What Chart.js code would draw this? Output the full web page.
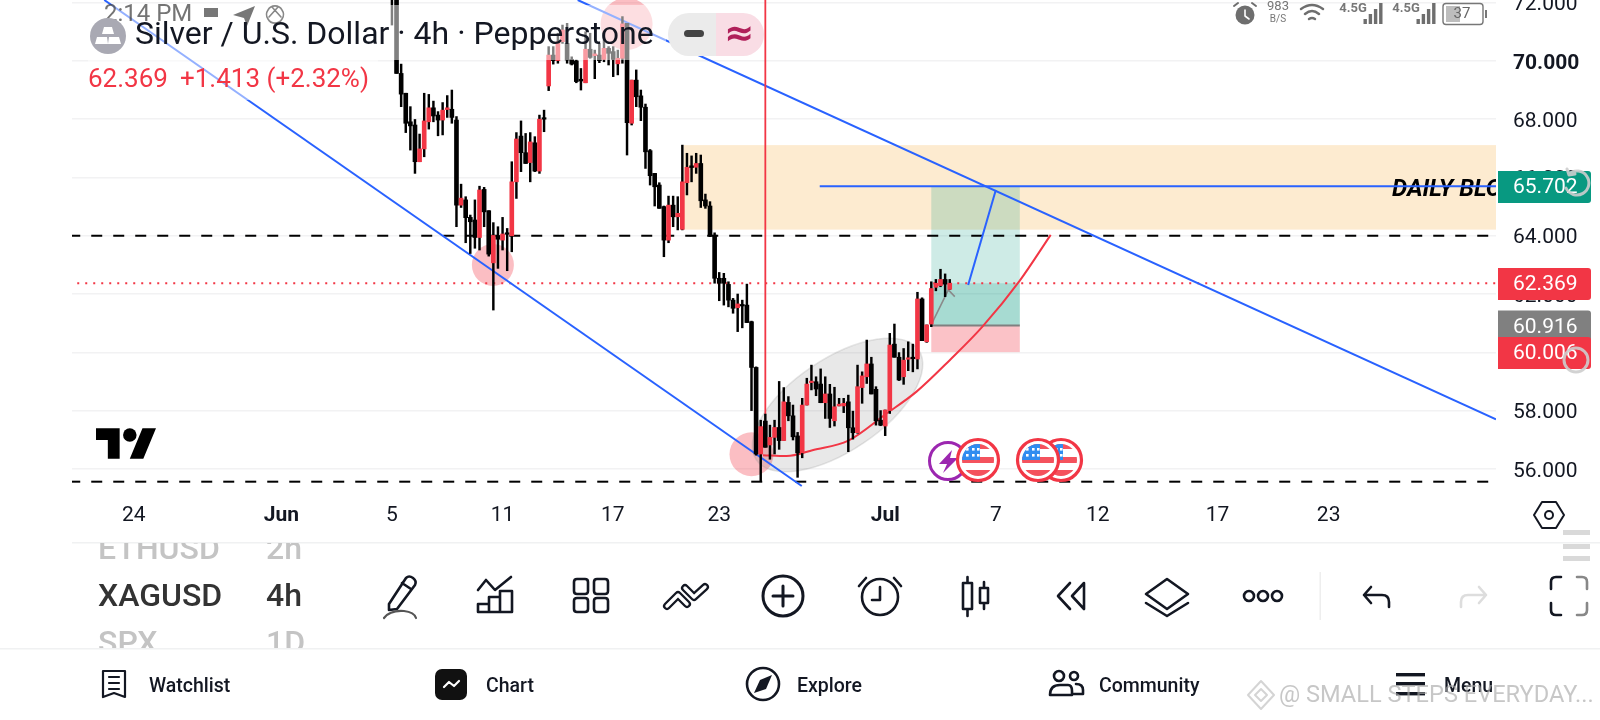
<!DOCTYPE html>
<html>
<head>
<meta charset="utf-8">
<title>XAGUSD 4h</title>
<style>
  html, body { margin: 0; padding: 0; background: #fff; }
  canvas { display: block; }
</style>
<script src="https://cdn.jsdelivr.net/npm/chart.js@4/dist/chart.umd.min.js"></script>
</head>
<body>
<canvas id="chart" width="1600" height="720"></canvas>
<script>
// Candles. Bar 0 is the first one on screen.
const opens = [72.6,72.5,69.57,68.89,67.91,67.8,66.54,66.98,67.91,68.39,68.14,67.97,68.33,68.34,67.97,65.05,65.23,64.63,64.54,63.94,65.59,64.86,63.07,64.01,63.85,64.08,64,65.85,67.42,66.85,66.51,67.19,66.22,68.03,69.14,70.2,70.01,70.66,70.6,70.05,70,69.37,69.25,70.4,70.18,70.2,70.05,70.43,70.32,69.9,70.09,71.29,67.86,69.34,68.8,68.41,66.92,66.14,65.74,65,63.85,65.05,64.65,64.22,65.82,66.4,66.35,66.48,65.23,65.02,64.02,62.54,62.54,62.33,61.79,61.53,61.62,61.62,61.05,59.48,56.51,57.64,56.82,57.08,57.42,56.97,58.28,57.82,57.13,56.55,58.19,58.96,58.99,58.91,58.27,58.57,57.65,58.16,58.16,58.3,57.41,57.24,58.79,59.16,59.6,58.73,57.67,57.47,58,60.28,59.83,59.16,59.76,59.83,59.77,61.83,60.36,60.97,62.23,62.29,62.5,62.16];
const highs = [73,72.8,69.89,68.89,68.43,67.99,67.49,68.89,68.85,68.62,68.26,68.57,68.81,69,68.09,65.77,65.34,64.71,65.23,65.7,65.66,64.86,64.45,64.31,64.63,64.25,66.54,67.54,67.94,67.51,67.54,67.4,68.14,68.31,70.49,70.49,70.95,71.23,71.29,70.14,70.03,69.74,71,70.95,70.37,70.6,70.95,70.49,70.49,70.37,71.52,71.29,69.34,69.69,69,68.52,66.96,66.14,65.82,65.02,65.36,65.36,65.34,67.11,66.83,66.74,66.83,66.77,65.43,65.17,64.1,62.74,62.71,62.42,61.85,62,61.79,62.34,61.07,59.5,57.67,57.88,57.5,57.67,59,58.79,58.48,58.19,57.25,58.42,59.11,59.56,59.16,59.43,59.16,58.9,58.8,58.42,58.42,58.53,57.98,59.56,59.33,60.42,59.83,58.82,58,58.02,60.65,60.97,59.99,60.13,60.36,60.28,62.06,61.87,60.94,62.42,62.5,62.85,62.69,62.5];
const lows = [71.23,69.57,68.43,67.54,66.94,66.14,66.54,66.71,67.66,67.91,67.43,67.46,68.06,67.86,64.31,64.97,63.76,63.39,63.57,63.51,64.31,63.3,61.45,62.88,63.51,62.8,63.45,65.28,66.2,66.48,65.85,66.2,66.14,67.57,68.98,69.89,69.92,70.6,69.92,69.86,69.25,69,69.25,70.09,69.39,69.94,69.97,69.86,69.46,69.52,69.92,66.77,67.8,68.43,67.95,66.31,65.74,65.02,64.94,63.28,63.76,64.31,64.2,64.2,65.4,65.85,66.14,64.97,64.94,63.97,62.37,61.77,61.62,61.56,61.34,60.71,60.84,61.02,58,56.47,55.56,56.74,56.33,56.51,56.67,56.97,57.65,56.99,55.71,56.38,58.19,58.71,58.51,58.27,57.73,57.42,57.47,58.16,57.93,56.59,57.02,57.22,58.25,58.93,58.57,57.5,57.48,57.14,57.9,59.83,59.03,58.9,59.37,59.33,59.43,60.4,60.34,60.88,62.11,62.25,61.91,62.16];
const closes = [72.3,69.57,68.86,67.86,67.77,66.54,66.98,67.94,68.39,68.11,67.97,68.31,68.39,68.06,65.05,65.29,64.62,64.48,63.94,65.57,64.82,63.37,64.01,63.88,64.06,64.05,65.85,67.32,66.85,66.48,67.22,66.22,68,68,70.2,70.01,70.66,71.06,70.03,69.89,69.29,69.31,70.4,70.12,70.24,70.01,70.43,70.26,70.05,70.09,71.27,67.88,69.34,68.77,68.41,66.88,66.06,65.68,64.94,63.85,65.05,64.65,64.77,65.85,66.35,66.34,66.48,65.2,65.02,63.99,62.54,62.37,62.37,61.79,61.51,61.66,61.59,61.02,59.48,56.51,57.45,56.74,57.08,57.42,56.97,58.3,57.82,57.1,56.55,58.19,58.91,59.01,58.74,58.27,58.57,57.73,58.13,58.22,58.25,57.41,57.24,58.82,59.19,59.6,58.57,57.65,57.5,58.02,60.25,59.83,59.05,59.73,59.81,59.78,61.83,60.4,60.94,62.19,62.37,62.5,62.34,62.37];

// Axes
const priceTicks = [56, 58, 60, 62, 64, 66, 68, 70, 72];
const timeTicks = [-56, -24, 0, 24, 47.9, 71, 107, 131, 153.1, 179.1, 203.2];
const timeLabels = ['24', 'Jun', '5', '11', '17', '23', 'Jul', '7', '12', '17', '23'];

// Levels and drawings, as [bar, price] pairs
const lastPrice = 62.369;
const dashedLevels = [64, 55.56];
const channelLow = [[-62.4, 72.09], [88.9, 55.41]];
const channelHigh = [[40.3, 72.09], [239.5, 57.7]];
const dailyLine = [[92.8, 65.7], [239.5, 65.7]];
const targetArrow = [[125, 62.31], [131, 65.57]];
const pathGrey = [[117.05, 60.97], [120.7, 62.14], [122.1, 61.91]];
const redCurve = [[80.5, 56.47], [85.6, 56.44], [91.4, 56.65], [99, 56.97], [107.3, 57.9], [113.8, 58.65], [121, 59.73], [128.1, 60.88], [136.2, 62.46], [142.9, 64.03]];
const entryLine = [[117, 60.916], [136.2, 60.916]];
const redVertical = [[81, 72.09], [81, 57.88]];
const dailyZone = [63.3, 239.5, 64.21, 67.11];
const profitZone = [117, 136.2, 60.916, 65.702];
const openZone = [117, 136.2, 60.916, 62.369];
const lossZone = [117, 136.2, 60.006, 60.916];
const touchCircles = [[21.9, 63.0], [50.9, 71.27], [78, 56.5]];
const touchRadius = [21, 26, 22];
const priceTags = [['65.702', 65.702, '#089981'], ['62.369', 62.369, '#f23645'], ['60.916', 60.916, '#808080'], ['60.006', 60.006, '#f23645']];

const RED = '#f23645';
const BLUE = '#2962ff';
const FONT = 'Roboto, sans-serif';

const bars = opens.map((o, i) => i);

function lineSet(points, color, width, extra) {
  return Object.assign({
    type: 'line',
    data: points.map(p => ({ x: p[0], y: p[1] })),
    borderColor: color,
    borderWidth: width,
    pointRadius: 0,
    fill: false,
    order: 5
  }, extra || {});
}

// Zones and circles sit under the candles
const underlay = {
  id: 'underlay',
  beforeDraw(chart) {
    // price labels sit a little below their grid line in the reference
    chart.scales.y.getLabelItems(chart.chartArea).forEach(item => { item.options.translation[1] += 2.5; });
  },
  beforeDatasetsDraw(chart) {
    const { ctx, scales: { x, y }, chartArea: a } = chart;
    ctx.save();
    ctx.beginPath();
    ctx.rect(a.left, a.top, a.right - a.left, a.bottom - a.top);
    ctx.clip();

    const zone = (z, color) => {
      ctx.fillStyle = color;
      const top = y.getPixelForValue(z[3]);
      ctx.fillRect(x.getPixelForValue(z[0]), top, x.getPixelForValue(z[1]) - x.getPixelForValue(z[0]), y.getPixelForValue(z[2]) - top);
    };
    zone(dailyZone, '#fdebd0');

    // label runs out of the zone and gets cut at the right edge
    ctx.fillStyle = '#000';
    ctx.font = 'italic bold 24px ' + FONT;
    ctx.textBaseline = 'alphabetic';
    ctx.textAlign = 'left';
    ctx.fillText('DAILY BLOCK', 1392, 196);

    zone(profitZone, 'rgba(8,153,129,0.2)');
    zone(openZone, 'rgba(8,153,129,0.2)');
    zone(lossZone, 'rgba(242,54,69,0.3)');

    touchCircles.forEach((c, i) => {
      ctx.fillStyle = 'rgba(242,54,69,0.32)';
      ctx.beginPath();
      ctx.arc(x.getPixelForValue(c[0]), y.getPixelForValue(c[1]), touchRadius[i], 0, Math.PI * 2);
      ctx.fill();
    });

    // the grey ellipse around the base
    ctx.fillStyle = 'rgba(120,120,120,0.17)';
    ctx.strokeStyle = 'rgba(150,150,150,0.25)';
    ctx.lineWidth = 1.5;
    ctx.beginPath();
    ctx.ellipse(x.getPixelForValue(96.66), y.getPixelForValue(58.19), 98, 46, -34 * Math.PI / 180, 0, Math.PI * 2);
    ctx.fill();
    ctx.stroke();
    ctx.restore();
  }
};

function stroke(ctx, cx, cy, d, color, width) {
  ctx.save();
  ctx.translate(cx, cy);
  ctx.strokeStyle = color || '#131722';
  ctx.lineWidth = width || 2.6;
  ctx.lineJoin = 'round';
  ctx.lineCap = 'round';
  ctx.stroke(new Path2D(d));
  ctx.restore();
}

function fillPath(ctx, cx, cy, d, color) {
  ctx.save();
  ctx.translate(cx, cy);
  ctx.fillStyle = color;
  ctx.fill(new Path2D(d));
  ctx.restore();
}

function text(ctx, str, x, y, font, color, align) {
  ctx.font = font;
  ctx.fillStyle = color;
  ctx.textAlign = align || 'left';
  ctx.textBaseline = 'middle';
  ctx.fillText(str, x, y);
}

function flag(ctx, cx, cy) {
  ctx.save();
  ctx.beginPath();
  ctx.arc(cx, cy, 21, 0, Math.PI * 2);
  ctx.fillStyle = '#fff';
  ctx.fill();
  ctx.beginPath();
  ctx.arc(cx, cy, 16, 0, Math.PI * 2);
  ctx.clip();
  ctx.fillStyle = '#f4525d';
  ctx.fillRect(cx - 17, cy - 17, 34, 6);
  ctx.fillRect(cx - 17, cy - 3, 34, 6);
  ctx.fillRect(cx - 17, cy + 10, 34, 8);
  ctx.fillStyle = '#2f8cf0';
  ctx.fillRect(cx - 17, cy - 17, 19, 17);
  ctx.fillStyle = '#fff';
  [[-11, -11], [-5, -11], [0, -11], [-11, -5], [-5, -5], [0, -5]].forEach(p => ctx.fillRect(cx + p[0] - 1, cy + p[1] - 1, 2.6, 2.6));
  ctx.restore();
  ctx.beginPath();
  ctx.arc(cx, cy, 20.5, 0, Math.PI * 2);
  ctx.strokeStyle = RED;
  ctx.lineWidth = 3.2;
  ctx.stroke();
}

// Legend, price tags, logo, phone status bar and the app toolbars
const overlay = {
  id: 'overlay',
  afterDraw(chart) {
    const { ctx, scales: { y } } = chart;
    ctx.save();

    // faded band behind the legend text
    ctx.fillStyle = 'rgba(255,255,255,0.5)';
    ctx.fillRect(88, 5, 578, 55);
    ctx.fillRect(88, 60, 290, 40);

    text(ctx, '2:14 PM', 104, 15, '24px ' + FONT, 'rgba(70,70,70,0.75)');
    fillPath(ctx, 204, 8, 'M0 0H14V9H0Z', '#777');
    fillPath(ctx, 233, 6, 'M0 9L22 0L14 20L11 12Z', '#777');
    stroke(ctx, 275, 14, 'M-7 -4 A8 8 0 0 1 7 -4 A8 8 0 0 1 7 5 A8 8 0 0 1 -7 5 A8 8 0 0 1 -7 -4 Z M-3 -7 L6 3 M3 -7 L-6 3', '#888', 1.6);

    ctx.fillStyle = '#a9a9b3';
    ctx.beginPath();
    ctx.arc(108, 36, 18, 0, Math.PI * 2);
    ctx.fill();
    fillPath(ctx, 108, 36, 'M-4 -9H4L6 -2H-6Z M-11 1H-1L0 8H-13Z M1 1H11L13 8H0Z', '#fff');

    text(ctx, 'Silver / U.S. Dollar · 4h · Pepperstone', 135, 36, '32px ' + FONT, '#131722');
    text(ctx, '62.369', 88, 80, '26px ' + FONT, RED);
    text(ctx, '+1.413 (+2.32%)', 180, 80, '26px ' + FONT, RED);

    // pill with the market status
    ctx.fillStyle = '#ebebeb';
    ctx.beginPath();
    ctx.roundRect(668, 13, 48, 43, [21, 0, 0, 21]);
    ctx.fill();
    ctx.fillStyle = '#f9dde5';
    ctx.beginPath();
    ctx.roundRect(716, 13, 48, 43, [0, 21, 21, 0]);
    ctx.fill();
    ctx.fillStyle = '#444';
    ctx.beginPath();
    ctx.roundRect(684, 30, 20, 7, 3.5);
    ctx.fill();
    text(ctx, '≈', 739, 36, 'bold 36px "DejaVu Sans"', '#b0205a', 'center');

    // TradingView mark
    ctx.save();
    ctx.translate(96, 421.5);
    ctx.scale(1.69, 1.69);
    ctx.fillStyle = '#000';
    ctx.fill(new Path2D('M14 22H7V11H0V4h14v18zM28 22h-8l7.5-18h8L28 22z'));
    ctx.beginPath();
    ctx.arc(20, 8, 4, 0, Math.PI * 2);
    ctx.fill();
    ctx.restore();

    // economic events
    ctx.beginPath();
    ctx.arc(948, 461, 18.5, 0, Math.PI * 2);
    ctx.fillStyle = '#fff';
    ctx.fill();
    ctx.strokeStyle = '#9c27b0';
    ctx.lineWidth = 3;
    ctx.stroke();
    fillPath(ctx, 948, 461, 'M4 -11L-9 3H-1L-5 12L10 -3H2Z', '#9c27b0');
    flag(ctx, 978, 460);
    flag(ctx, 1061, 460);
    flag(ctx, 1038, 460);

    // price tags on the right scale
    priceTags.forEach(t => {
      const py = y.getPixelForValue(t[1]) + 0.8;
      ctx.fillStyle = t[2];
      ctx.beginPath();
      ctx.roundRect(1498, py - 16, 93, 32, [0, 3, 3, 0]);
      ctx.fill();
      text(ctx, t[0], 1513, py + 1, '21px ' + FONT, '#fff');
    });

    // floating buttons over the tags
    stroke(ctx, 1577, 182, 'M-8 -8 A12 12 0 1 1 -11 6 M-10 -13 L-8 -7 L-2 -8', 'rgba(205,205,205,0.9)', 3);
    ctx.beginPath();
    ctx.arc(1576, 360, 12, 0, Math.PI * 2);
    ctx.strokeStyle = 'rgba(205,205,205,0.9)';
    ctx.lineWidth = 3;
    ctx.stroke();

    // status bar, right side
    ctx.beginPath();
    ctx.arc(1245, 15, 9.5, 0, Math.PI * 2);
    ctx.fillStyle = '#6e6e6e';
    ctx.fill();
    stroke(ctx, 1245, 15, 'M0 -5V1L4 4', '#fff', 1.6);
    stroke(ctx, 1245, 15, 'M-11 -9L-7 -12 M11 -9L7 -12', '#6e6e6e', 2);
    text(ctx, '983', 1278, 7, '13px ' + FONT, '#777', 'center');
    text(ctx, 'B/S', 1278, 19, '10px ' + FONT, '#777', 'center');
    stroke(ctx, 1312, 14, 'M-11 -5Q0 -13 11 -5 M-7 0Q0 -6 7 0 M-3 5Q0 3 3 5', '#6e6e6e', 2.4);
    ['1353', '1406'].forEach((px, i) => {
      const sx = Number(px);
      text(ctx, '4.5G', sx, 9, 'bold 13px ' + FONT, '#777', 'center');
      ctx.fillStyle = '#6e6e6e';
      [5, 10, 15, 21].forEach((h, k) => ctx.fillRect(sx + 10.5 + k * 5.2, 24 - h, 3.4, h));
    });
    ctx.strokeStyle = '#777';
    ctx.lineWidth = 1.4;
    ctx.beginPath();
    ctx.roundRect(1443, 3.5, 40, 21, 3);
    ctx.stroke();
    ctx.fillStyle = '#bdbdbd';
    ctx.fillRect(1446, 6, 14, 16);
    ctx.fillStyle = '#777';
    ctx.fillRect(1485, 10, 2, 8);
    text(ctx, '37', 1462, 14.5, '15px ' + FONT, '#666', 'center');

    // tool rows
    ctx.fillStyle = '#f0f1f2';
    ctx.fillRect(72, 542, 1528, 1.5);
    ctx.fillRect(0, 648, 1600, 1.5);

    ctx.save();
    ctx.beginPath();
    ctx.rect(0, 543, 340, 105);
    ctx.clip();
    text(ctx, 'ETHUSD', 98, 551, '500 32px ' + FONT, '#c4c4c4');
    text(ctx, '2h', 266, 551, '500 32px ' + FONT, '#c4c4c4');
    text(ctx, 'XAGUSD', 98, 598, '500 32px ' + FONT, '#333');
    text(ctx, '4h', 266, 598, '500 32px ' + FONT, '#333');
    text(ctx, 'SPX', 98, 645, '500 32px ' + FONT, '#c4c4c4');
    text(ctx, '1D', 266, 645, '500 32px ' + FONT, '#c4c4c4');
    ctx.restore();

    stroke(ctx, 400, 596, 'M-11 8L6 -18Q9 -21 13 -18Q17 -15 15 -11L-3 13L-11 14Z M2 -13L11 -7');
    stroke(ctx, 400, 596, 'M-16 22Q-10 14 4 15Q14 16 16 22', '#555', 2.2);
    stroke(ctx, 495, 596, 'M-17 -6L-9 -16L0 -6L16 -19 M-17 16V8H-6V16Z M-6 16V1H5V16Z M5 16V-5H17V16Z');
    stroke(ctx, 591, 596, 'M-17 -14Q-17 -17 -14 -17H-6Q-3 -17 -3 -14V-5Q-3 -2 -6 -2H-14Q-17 -2 -17 -5Z M3 -14Q3 -17 6 -17H14Q17 -17 17 -14V-5Q17 -2 14 -2H6Q3 -2 3 -5Z M-17 5Q-17 2 -14 2H-6Q-3 2 -3 5V13Q-3 16 -6 16H-14Q-17 16 -17 13Z M3 5Q3 2 6 2H14Q17 2 17 5V13Q17 16 14 16H6Q3 16 3 13Z');
    stroke(ctx, 686, 596, 'M-19 10L-8 -1L1 8 M-1 -8L8 1L19 -9', '#131722', 8);
    stroke(ctx, 686, 596, 'M-19 10L-8 -1L1 8 M-1 -8L8 1L19 -9', '#fff', 3.4);
    stroke(ctx, 783, 596, 'M20 0A20 20 0 1 1 -20 0A20 20 0 1 1 20 0Z M0 -10V10 M-10 0H10', '#131722', 3);
    stroke(ctx, 880, 596, 'M18 1A18 18 0 1 1 -18 1A18 18 0 1 1 18 1Z M0 -9V4H-8 M-21 -10L-14 -18 M21 -10L14 -18');
    stroke(ctx, 967, 596, 'M-4 -13H5V13H-4Z M0.5 -19V-13 M0.5 13V20');
    stroke(ctx, 984, 596, 'M-4 -8H4V7H-4Z M0 -14V-8 M0 7V13');
    stroke(ctx, 1070, 596, 'M0 -13L-12 0L0 13 M14 -13L2 0L14 13Z');
    stroke(ctx, 1167, 596, 'M0 -17L21 -2L0 13L-21 -2Z M-21 7L0 20L21 7');
    stroke(ctx, 1249, 596, 'M5 0A5 5 0 1 1 -5 0A5 5 0 1 1 5 0Z');
    stroke(ctx, 1263, 596, 'M5 0A5 5 0 1 1 -5 0A5 5 0 1 1 5 0Z');
    stroke(ctx, 1277, 596, 'M5 0A5 5 0 1 1 -5 0A5 5 0 1 1 5 0Z');
    ctx.fillStyle = '#eee';
    ctx.fillRect(1319.5, 572, 1.5, 48);
    stroke(ctx, 1377, 596, 'M-6 -9L-13 -1L-6 7 M-13 -1H5Q12 -1 12 6V11');
    stroke(ctx, 1473, 596, 'M6 -9L13 -1L6 7 M13 -1H-5Q-12 -1 -12 6V11', '#ddd');
    stroke(ctx, 1569, 596, 'M-18 -7V-14Q-18 -19 -13 -19H-8 M-18 7V14Q-18 19 -13 19H-8');
    stroke(ctx, 1569, 596, 'M18 -7V-14Q18 -19 13 -19H8 M18 7V14Q18 19 13 19H8', '#888');

    // hexagon button and grip
    stroke(ctx, 1549, 515, 'M-7 -13H7L15 0L7 13H-7L-15 0Z M4 0A4 4 0 1 1 -4 0A4 4 0 1 1 4 0Z', '#131722', 2);
    ctx.fillStyle = '#d9d9d9';
    [530, 544, 556].forEach(py => ctx.fillRect(1563, py, 27, 5));

    // bottom navigation
    const nav = '500 19.5px ' + FONT;
    stroke(ctx, 114, 684, 'M-11 -13H11V13L0 9L-11 13Z M-5 -7H5 M-5 -1H5 M-5 5H5', '#131722', 2.2);
    text(ctx, 'Watchlist', 149, 687, nav, '#131722');
    ctx.fillStyle = '#111';
    ctx.beginPath();
    ctx.roundRect(435, 669, 32, 31, 7);
    ctx.fill();
    stroke(ctx, 451, 684, 'M-7 3L-2 -2L3 2L8 -3', '#fff', 2.2);
    text(ctx, 'Chart', 486, 687, nav, '#131722');
    stroke(ctx, 763, 684, 'M16 0A16 16 0 1 1 -16 0A16 16 0 1 1 16 0Z', '#131722', 2.6);
    fillPath(ctx, 763, 684, 'M9 -9L3 5L-9 9L-3 -4Z', '#131722');
    text(ctx, 'Explore', 797, 687, nav, '#131722');
    stroke(ctx, 1059, 676, 'M5 0A5 5 0 1 1 -5 0A5 5 0 1 1 5 0Z', '#131722', 2.6);
    stroke(ctx, 1074, 676, 'M4 0A4 4 0 1 1 -4 0A4 4 0 1 1 4 0Z', '#131722', 2.6);
    stroke(ctx, 1065, 688, 'M-15 7Q-15 -3 -5 -3H3Q7 -3 7 3V7Z M11 -4Q18 -4 18 2V6H8', '#131722', 2.6);
    text(ctx, 'Community', 1099, 687, nav, '#131722');
    ctx.fillStyle = '#131722';
    [673, 682, 692].forEach(py => ctx.fillRect(1396, py, 29, 3.4));
    text(ctx, 'Menu', 1444, 687, nav, '#131722');

    // watermark
    ctx.globalAlpha = 0.65;
    stroke(ctx, 1261, 695, 'M0 -14L13 0L0 14L-13 0Z M0 -6L6 0L0 6L-6 0Z', '#bdbdbd', 2);
    text(ctx, '@ SMALL STEPS EVERYDAY...', 1279, 696, '23.6px ' + FONT, '#a9a9a9');
    ctx.restore();
  }
};

new Chart(document.getElementById('chart'), {
  type: 'bar',
  data: {
    datasets: [
      // wicks are black whatever the candle colour
      {
        data: bars.map(i => ({ x: i, y: [lows[i], highs[i]] })),
        backgroundColor: '#000',
        barThickness: 1.8,
        grouped: false,
        order: 2
      },
      {
        data: bars.map(i => ({ x: i, y: [opens[i], closes[i]] })),
        backgroundColor: bars.map(i => closes[i] >= opens[i] ? RED : '#000'),
        barThickness: 4,
        minBarLength: 1.5,
        grouped: false,
        order: 1
      },
      lineSet(redVertical, RED, 1.8),
      lineSet(channelLow, BLUE, 2),
      lineSet(channelHigh, BLUE, 2),
      lineSet(dailyLine, BLUE, 2),
      lineSet(targetArrow, BLUE, 2),
      lineSet(pathGrey, '#8a8a8a', 1.6),
      lineSet(redCurve, RED, 2, { cubicInterpolationMode: 'monotone' }),
      lineSet(entryLine, '#808080', 2),
      lineSet([[-70, lastPrice], [239.5, lastPrice]], RED, 1.8, { borderDash: [2, 6] }),
      lineSet([[-70, dashedLevels[0]], [239.5, dashedLevels[0]]], '#000', 2, { borderDash: [11, 11] }),
      lineSet([[-70, dashedLevels[1]], [239.5, dashedLevels[1]]], '#000', 2, { borderDash: [11, 11] })
    ]
  },
  options: {
    responsive: false,
    animation: false,
    events: [],
    layout: { padding: { left: 72, top: 0, right: 0, bottom: 0 }, autoPadding: false },
    plugins: { legend: { display: false }, tooltip: { enabled: false } },
    scales: {
      x: {
        type: 'linear',
        min: -69.4,
        max: 239.5,
        offset: false,
        grid: { display: false, offset: false },
        border: { display: false },
        afterBuildTicks: s => { s.ticks = timeTicks.map(v => ({ value: v })); },
        afterFit: s => { s.height = 222; },
        ticks: {
          autoSkip: false,
          maxRotation: 0,
          padding: -3,
          color: '#131722',
          font: c => ({ family: FONT, size: 21, weight: c.tick && /[a-z]/i.test(c.tick.label || '') ? 'bold' : 'normal' }),
          callback: (v, i) => timeLabels[i]
        }
      },
      y: {
        position: 'right',
        min: 55,
        max: 72.09,
        grid: { color: '#f2f2f3', lineWidth: 1.6, drawTicks: false },
        border: { display: false },
        afterBuildTicks: s => { s.ticks = priceTicks.map(v => ({ value: v })); },
        // the tick padding would otherwise push the plot down from the top edge
        afterFit: s => { s.width = 104; s.paddingTop = 0; s.paddingBottom = 0; },
        ticks: {
          padding: 17,
          color: '#131722',
          font: c => ({ family: FONT, size: 21, weight: c.tick && c.tick.value === 70 ? 'bold' : 'normal' }),
          callback: v => v.toFixed(3)
        }
      }
    }
  },
  plugins: [underlay, overlay]
});
</script>
</body>
</html>
